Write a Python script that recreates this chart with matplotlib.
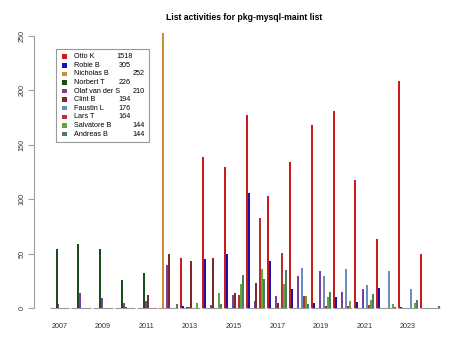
import numpy as np
import matplotlib
matplotlib.use("Agg")
import matplotlib.pyplot as plt
from matplotlib.patches import Rectangle

plt.rcParams['font.family'] = ['Liberation Sans', 'DejaVu Sans']

years = list(range(2007, 2025))
names = ["Otto K", "Robie B", "Nicholas B", "Norbert T", "Olaf van der S",
         "Clint B", "Faustin L", "Lars T", "Salvatore B", "Andreas B"]
totals = [1518, 305, 252, 226, 210, 194, 176, 164, 144, 144]
colors = ["#cc1a1a", "#1a10b4", "#cf8a38", "#174f17", "#7a3ea0",
          "#7c2a2a", "#6a8dc8", "#b5302e", "#62a636", "#4d7c66"]

# messages per year, one list per person (2007..2024)
otto      = [0, 0, 0, 0, 0, 0, 46, 139, 130, 177, 103, 134, 168, 181, 118, 64, 208, 50]
robie     = [0, 0, 0, 0, 0, 0, 2, 45, 50, 106, 43, 18, 5, 10, 6, 19, 1, 0]
nicholas  = [0, 0, 0, 0, 0, 252, 0, 0, 0, 0, 0, 0, 0, 0, 0, 0, 0, 0]
norbert   = [54, 59, 54, 26, 32, 0, 1, 0, 0, 0, 0, 0, 0, 0, 0, 0, 0, 0]
olaf      = [4, 14, 9, 5, 7, 40, 1, 3, 12, 7, 11, 30, 34, 15, 18, 0, 0, 0]
clint     = [0, 0, 0, 1, 12, 50, 43, 46, 14, 23, 5, 0, 0, 0, 0, 0, 0, 0]
faustin   = [0, 0, 0, 0, 0, 0, 0, 0, 0, 0, 0, 37, 30, 36, 21, 34, 18, 0]
lars      = [0, 0, 0, 0, 0, 0, 0, 0, 12, 83, 51, 11, 2, 2, 3, 0, 0, 0]
salvatore = [0, 0, 0, 0, 0, 0, 5, 14, 22, 36, 22, 11, 10, 7, 8, 4, 5, 0]
andreas   = [0, 0, 0, 0, 0, 4, 0, 4, 31, 27, 35, 4, 15, 0, 13, 1, 8, 2]

series = [otto, robie, nicholas, norbert, olaf, clint, faustin, lars, salvatore, andreas]

# which tab stop the count lands on in the legend
count_col = [0, 0, 1, 0, 1, 0, 0, 0, 1, 1]

W, H = 474, 355
fig = plt.figure(figsize=(W / 100, H / 100), dpi=100)
ax = fig.add_axes([34 / W, 1 - 319.3 / H, (455.2 - 34) / W, (319.3 - 22.5) / H])

n = len(series)
step = n + 1
group_x = np.arange(len(years)) * step

for g, gx in enumerate(group_x):
    ax.hlines(0, gx + 1, gx + 1 + n, color="#9a9a9a", lw=0.8, zorder=1)

for j, vals in enumerate(series):
    ax.bar(group_x + 1 + j, vals, width=1.0, align="edge",
           color=colors[j], edgecolor="none", zorder=2)

ymax = max(max(s) for s in series)
ext_y = 0.04 * ymax
ax.set_ylim(-ext_y, ymax + ext_y)
xr = group_x[-1] + step - 1
ext_x = 0.04 * xr
ax.set_xlim(1 - ext_x, group_x[-1] + step + ext_x)

for s in ["top", "right", "bottom"]:
    ax.spines[s].set_visible(False)
ax.spines["left"].set_bounds(0, 250)
ax.spines["left"].set_color("#a0a0a0")
ax.spines["left"].set_linewidth(0.8)

ax.set_yticks(np.arange(0, 251, 50))
ax.tick_params(axis="y", length=4, width=0.8, color="#a0a0a0",
               labelsize=5.2, labelcolor="#333333", pad=2)
for lab in ax.get_yticklabels():
    lab.set_rotation(90)
    lab.set_va("center")

centers = group_x + 1 + n / 2
ax.set_xticks(centers[::2])
ax.set_xticklabels([str(y) for y in years[::2]])
ax.tick_params(axis="x", length=0, labelsize=5.2, labelcolor="#333333", pad=3)

fig.text(244.5 / W, 1 - 18 / H, "List activities for pkg-mysql-maint list",
         ha="center", va="center", fontsize=6.2, fontweight="bold")

# legend box, drawn by hand to get R style tab stops
tr = fig.transFigure
fig.patches.append(Rectangle((56 / W, 1 - 141.7 / H), 93 / W, 92.4 / H,
                             transform=tr, facecolor="white",
                             edgecolor="#9a9a9a", lw=0.8))
row0, row_step = 56.7, 8.6
for i, name in enumerate(names):
    yy = 1 - (row0 + i * row_step) / H
    fig.patches.append(Rectangle((62.2 / W, yy - 2.2 / H), 4.4 / W, 4.4 / H,
                                 transform=tr, facecolor=colors[i],
                                 edgecolor="none"))
    fig.text(74 / W, yy, name, ha="left", va="center", fontsize=5.2)
    cx = 124.5 if count_col[i] == 0 else 138.8
    fig.text(cx / W, yy, str(totals[i]), ha="center", va="center", fontsize=5.2)

fig.savefig("out.png", dpi=100)
